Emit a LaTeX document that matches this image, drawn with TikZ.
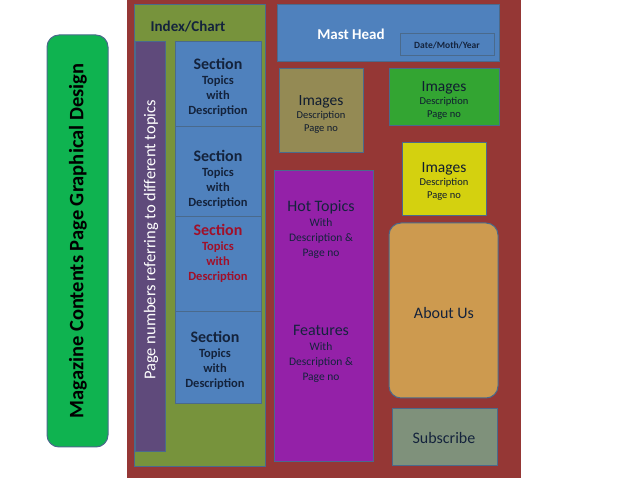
\documentclass[tikz,border=0pt]{standalone}
\usepackage{fontspec}
\setmainfont{Carlito}
\begin{document}
\begin{tikzpicture}[x=1pt,y=-1pt,
  bx/.style={draw=bordc,line width=1pt},
  tx/.style={align=center,inner sep=0pt,font=\fontsize{11.5}{15}\selectfont},
  sec/.style={align=center,inner sep=0pt,font=\bfseries\fontsize{12.5}{15}\selectfont},
]
\definecolor{bordc}{HTML}{4A6A8C}
\definecolor{redbg}{HTML}{953735}
\definecolor{olivebg}{HTML}{77933C}
\definecolor{purp}{HTML}{5F4A7B}
\definecolor{secblue}{HTML}{4F81BD}
\definecolor{khaki}{HTML}{948A54}
\definecolor{grn}{HTML}{33A532}
\definecolor{yel}{HTML}{D4D10F}
\definecolor{hot}{HTML}{9421A8}
\definecolor{about}{HTML}{CD9A4F}
\definecolor{subs}{HTML}{7F917B}
\definecolor{titlegrn}{HTML}{0FB350}
\definecolor{darkred}{HTML}{A0102A}
\definecolor{navy}{HTML}{14233C}
\useasboundingbox (0,0) rectangle (638,478);
\fill[white] (0,0) rectangle (638,478);
% title
\draw[bx,fill=titlegrn,rounded corners=12pt] (47,35) rectangle (108,447);
\node[rotate=90,font=\bfseries\fontsize{20.5}{24}\selectfont,text=black] (title) at (78,241) {Magazine Contents Page Graphical Design};
% red background
\fill[redbg] (127,0) rectangle (521,478);
% index
\draw[bx,fill=olivebg] (134,5) rectangle (265,467);
\node[font=\bfseries\fontsize{15}{17}\selectfont,text=navy] (idx) at (188,27) {Index/Chart};
\draw[bx,fill=purp] (135,42) rectangle (165,452);
\node[rotate=90,text=white,font=\fontsize{16.5}{18}\selectfont] (pn) at (151,240) {Page numbers referring to different topics};
% sections
\draw[bx,fill=secblue] (175,42) rectangle (261,127);
\draw[bx,fill=secblue] (175,127) rectangle (261,217);
\draw[bx,fill=secblue] (175,217) rectangle (261,312);
\draw[bx,fill=secblue] (175,312) rectangle (261,404);
\node[sec,text=navy] (s1) at (218,87) {{\fontsize{16}{16}\selectfont Section}\\Topics\\with\\Description};
\node[sec,text=navy] (s2) at (218,179) {{\fontsize{16}{16}\selectfont Section}\\Topics\\with\\Description};
\node[sec,text=darkred] (s3) at (218,253) {{\fontsize{16}{16}\selectfont Section}\\Topics\\with\\Description};
\node[sec,text=navy] (s4) at (215,360) {{\fontsize{16}{16}\selectfont Section}\\Topics\\with\\Description};
% mast head
\draw[bx,fill=secblue] (277,5) rectangle (499,62);
\node[text=white,font=\bfseries\fontsize{15}{17}\selectfont] (mh) at (351,34) {Mast Head};
\draw[bx,fill=secblue] (400,34) rectangle (494,56);
\node[text=navy,font=\bfseries\fontsize{9.5}{10}\selectfont] (dt) at (447,45) {Date/Moth/Year};
% images
\draw[bx,fill=khaki] (279,69) rectangle (363,153);
\node[tx,text=navy!80!black,font=\fontsize{10.5}{13}\selectfont] (i1) at (321,114) {{\fontsize{15.5}{17}\selectfont Images}\\Description\\Page no};
\draw[bx,fill=grn] (389,69) rectangle (499,126);
\node[tx,text=navy!80!black,font=\fontsize{10.5}{13}\selectfont] (i2) at (444,100) {{\fontsize{15.5}{17}\selectfont Images}\\Description\\Page no};
\draw[bx,fill=yel] (402,143) rectangle (486,216);
\node[tx,text=navy!80!black,font=\fontsize{10.5}{13}\selectfont] (i3) at (444,181) {{\fontsize{15.5}{17}\selectfont Images}\\Description\\Page no};
% hot topics
\draw[bx,fill=hot] (274,171) rectangle (373,462);
\node[tx,text=navy] (ht) at (321,229) {{\fontsize{16}{17}\selectfont Hot Topics}\\With\\Description \&\\Page no};
\node[tx,text=navy] (ft) at (321,354) {{\fontsize{16}{17}\selectfont Features}\\With\\Description \&\\Page no};
% about
\draw[bx,fill=about,rounded corners=12pt] (389,223) rectangle (498,398);
\node[text=navy,font=\fontsize{16}{18}\selectfont] (ab) at (444,313) {About Us};
% subscribe
\draw[bx,fill=subs] (392,409) rectangle (497,466);
\node[text=navy,font=\fontsize{16}{18}\selectfont] (sb) at (444,438) {Subscribe};
\end{tikzpicture}
\end{document}
